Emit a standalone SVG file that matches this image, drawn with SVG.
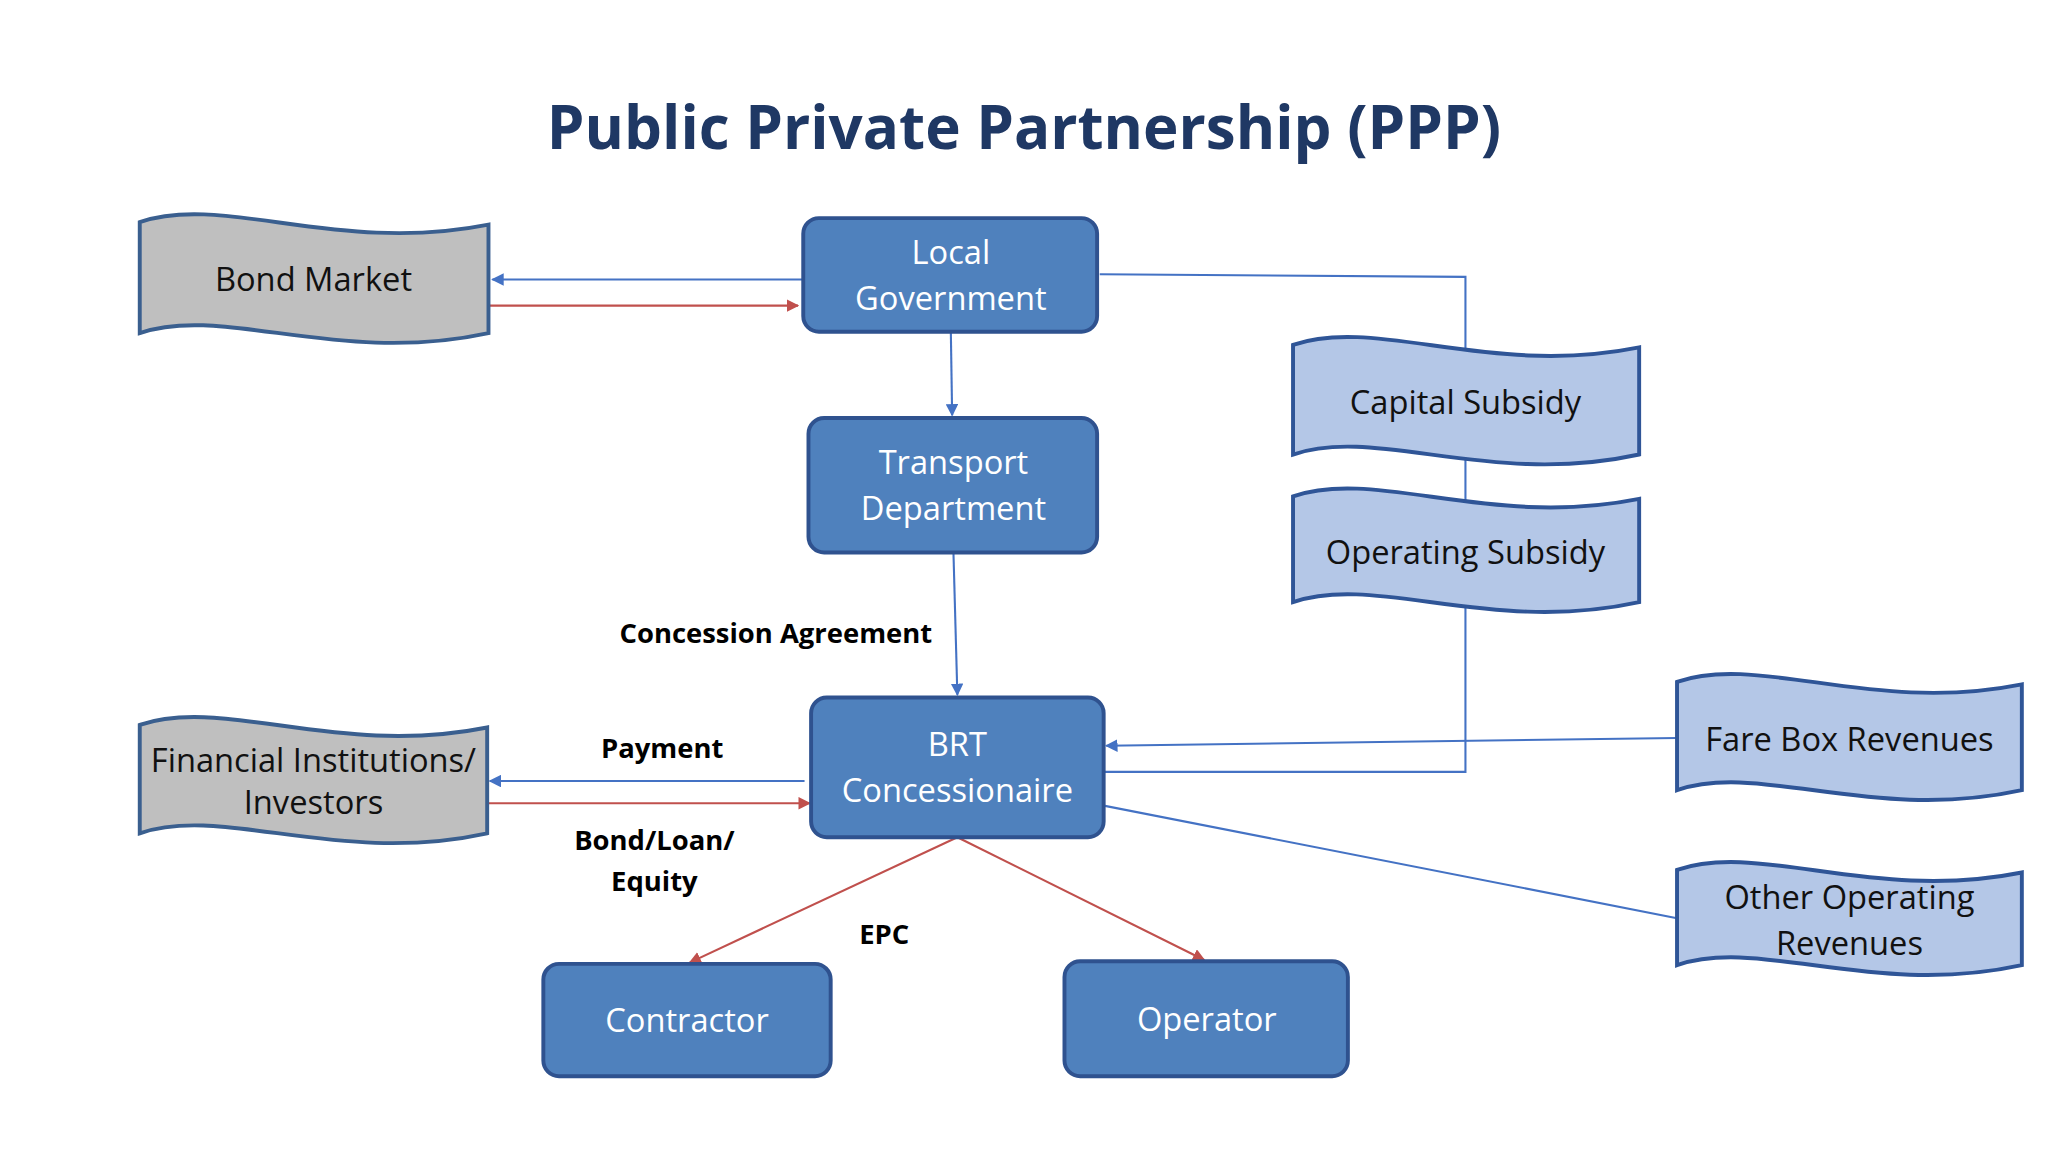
<svg xmlns="http://www.w3.org/2000/svg" width="2048" height="1152" viewBox="0 0 2048 1152">
<defs>
<style>
.box{fill:#4f81bd;stroke:#2f528f;stroke-width:3}
.gray{fill:#bfbfbf;stroke:#3a5f8f;stroke-width:3}
.lb{fill:#b4c7e7;stroke:#2f5597;stroke-width:3}
.wt{font-family:"Open Sans","Noto Sans",sans-serif;font-size:25px;fill:#fff;text-anchor:middle}
.bt{font-family:"Open Sans","Noto Sans",sans-serif;font-size:25px;fill:#111;text-anchor:middle}
.lab{font-family:"Open Sans","Noto Sans",sans-serif;font-size:21px;font-weight:bold;fill:#000;text-anchor:middle}
.b{stroke:#4472c4;stroke-width:1.6;fill:none}
.r{stroke:#c0504d;stroke-width:1.6;fill:none}
</style>
<marker id="ab" viewBox="0 0 10 10" refX="9" refY="5" markerWidth="6" markerHeight="6" orient="auto"><path d="M0,0L10,5L0,10z" fill="#4472c4"/></marker>
<marker id="ar" viewBox="0 0 10 10" refX="9" refY="5" markerWidth="6" markerHeight="6" orient="auto"><path d="M0,0L10,5L0,10z" fill="#c0504d"/></marker>
</defs>
<rect width="2048" height="1152" fill="#fff"/>
<g transform="scale(1.3061)">
<text x="784" y="114" font-family="'Open Sans','Noto Sans',sans-serif" font-size="46" font-weight="bold" fill="#1f3864" text-anchor="middle">Public Private Partnership (PPP)</text>
<g id="connectors">
<path class="b" d="M615,214H377" marker-end="url(#ab)"/>
<path class="r" d="M370,234H611" marker-end="url(#ar)"/>
<path class="b" d="M728,254L729,318" marker-end="url(#ab)"/>
<path class="b" d="M730,423L733,532" marker-end="url(#ab)"/>
<path class="b" d="M842,210L1122,212V591H846"/>
<path class="b" d="M1284,565L847,571" marker-end="url(#ab)"/>
<path class="b" d="M1284,703L846,617"/>
<path class="b" d="M616,598H375" marker-end="url(#ab)"/>
<path class="r" d="M373,615H620" marker-end="url(#ar)"/>
<path class="r" d="M733,641L528,737" marker-end="url(#ar)"/>
<path class="r" d="M733,641L922,735" marker-end="url(#ar)"/>
</g>
<g id="bond"><path class="gray" d="M107,170 C171,148 259,195 374,172 L374,255 C259,280 171,233 107,255 Z"/><text class="bt" x="240" y="223">Bond Market</text></g>
<g id="fin"><path class="gray" d="M107,555 C171,533 259,580 373,557 L373,638 C259,663 171,616 107,638 Z"/><text class="bt" x="240" y="591" font-size="23">Financial Institutions/</text><text class="bt" x="240" y="623" font-size="23">Investors</text></g>
<g id="cap"><path class="lb" d="M990,264 C1054,242 1141,289 1255,266 L1255,348 C1141,373 1054,326 990,348 Z"/><text class="bt" x="1122" y="317">Capital Subsidy</text></g>
<g id="opsub"><path class="lb" d="M990,380 C1054,358 1141,405 1255,382 L1255,461 C1141,486 1054,439 990,461 Z"/><text class="bt" x="1122" y="432">Operating Subsidy</text></g>
<g id="fare"><path class="lb" d="M1284,522 C1347,500 1434,547 1548,524 L1548,605 C1434,630 1347,583 1284,605 Z"/><text class="bt" x="1416" y="575">Fare Box Revenues</text></g>
<g id="other"><path class="lb" d="M1284,666 C1347,644 1434,691 1548,668 L1548,739 C1434,764 1347,717 1284,739 Z"/><text class="bt" x="1416" y="696">Other Operating</text><text class="bt" x="1416" y="731">Revenues</text></g>
<g id="localgov"><rect class="box" x="615" y="167" width="225" height="87" rx="12"/><text class="wt" x="728" y="202">Local</text><text class="wt" x="728" y="237">Government</text></g>
<g id="transport"><rect class="box" x="619" y="320" width="221" height="103" rx="12"/><text class="wt" x="730" y="363">Transport</text><text class="wt" x="730" y="398">Department</text></g>
<g id="brt"><rect class="box" x="621" y="534" width="224" height="107" rx="12"/><text class="wt" x="733" y="579">BRT</text><text class="wt" x="733" y="614">Concessionaire</text></g>
<g id="contractor"><rect class="box" x="416" y="738" width="220" height="86" rx="12"/><text class="wt" x="526" y="790">Contractor</text></g>
<g id="operator"><rect class="box" x="815" y="736" width="217" height="88" rx="12"/><text class="wt" x="924" y="789">Operator</text></g>
<text class="lab" x="594" y="492">Concession Agreement</text>
<text class="lab" x="507" y="580">Payment</text>
<text class="lab" x="501" y="651">Bond/Loan/</text>
<text class="lab" x="501" y="682">Equity</text>
<text class="lab" x="677" y="723">EPC</text>
</g>
</svg>
